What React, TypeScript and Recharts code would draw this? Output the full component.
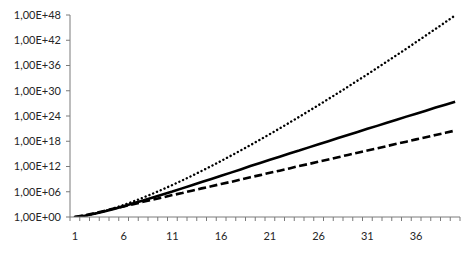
import React from 'react'
import { CartesianGrid, Line, LineChart, XAxis, YAxis } from 'recharts'

// categories 1..40
const categories = [
  1, 2, 3, 4, 5, 6, 7, 8, 9, 10, 11, 12, 13, 14, 15, 16, 17, 18, 19, 20,
  21, 22, 23, 24, 25, 26, 27, 28, 29, 30, 31, 32, 33, 34, 35, 36, 37, 38, 39, 40
]

// dotted series (top, curving up)
const dottedValues = [
  1, 2, 6, 2.4e1, 1.2e2, 7.2e2, 5e3, 4e4, 3.6e5, 3.6e6,
  4e7, 4.8e8, 6.2e9, 8.7e10, 1.3e12, 2.1e13, 3.6e14, 6.4e15, 1.2e17, 2.4e18,
  5.1e19, 1.1e21, 2.6e22, 6.2e23, 1.6e25, 4e26, 1.1e28, 3e29, 8.8e30, 2.7e32,
  8.2e33, 2.6e35, 8.7e36, 3e38, 1e40, 3.7e41, 1.4e43, 5.2e44, 2e46, 8e47
]

// solid series (middle)
const solidValues = [
  1, 2, 5.6, 2e1, 7.9e1, 3.5e2, 1.8e3, 8.9e3, 4.5e4, 2.2e5,
  1.1e6, 6.3e6, 3.5e7, 2e8, 1.1e9, 6.3e9, 3.5e10, 2e11, 1.3e12, 7.1e12,
  4e13, 2.2e14, 1.3e15, 6.3e15, 3.5e16, 2e17, 1e18, 5.6e18, 3.2e19, 1.6e20,
  8.9e20, 4.5e21, 2.5e22, 1.3e23, 7.1e23, 3.5e24, 1.8e25, 1e26, 5e26, 2.5e27
]

// dashed series (bottom)
const dashedValues = [
  1, 2.5, 7.9, 2.8e1, 1e2, 3.2e2, 1.1e3, 4e3, 1.3e4, 4.5e4,
  1.6e5, 5e5, 1.8e6, 6.3e6, 2e7, 7.1e7, 2.2e8, 7.9e8, 2.8e9, 8.9e9,
  3.2e10, 1e11, 3.5e11, 1.3e12, 4e12, 1.4e13, 4.5e13, 1.6e14, 5.6e14, 1.8e15,
  6.3e15, 2e16, 7.1e16, 2.5e17, 7.9e17, 2.8e18, 8.9e18, 3.2e19, 1e20, 3.5e20
]

const yTicks = [1, 1e6, 1e12, 1e18, 1e24, 1e30, 1e36, 1e42, 1e48]

const data = categories.map((c, i) => ({
  name: c,
  dotted: dottedValues[i],
  solid: solidValues[i],
  dashed: dashedValues[i]
}))

const FONT = 'Lato, "Liberation Sans", sans-serif'
const AXIS = '#7a7a7a'
const TEXT = '#262626'
const HALF_STEP = 4.875

function formatExp(v: number) {
  const e = Math.round(Math.log10(v))
  return `1,00E+${e < 10 ? '0' + e : e}`
}

function XTick(props: { x?: number; y?: number; index?: number; payload?: { value: number } }) {
  const { x = 0, y = 0, index = 0, payload } = props
  const last = index === categories.length - 1
  return (
    <g>
      <line x1={x - HALF_STEP} x2={x - HALF_STEP} y1={y} y2={y + 4} stroke={AXIS} strokeWidth={1} />
      {last && <line x1={x + HALF_STEP} x2={x + HALF_STEP} y1={y} y2={y + 4} stroke={AXIS} strokeWidth={1} />}
      {index % 5 === 0 && (
        <text x={x} y={y + 15} dy="0.71em" textAnchor="middle" fill={TEXT} fontSize={11} fontFamily={FONT}>
          {payload?.value}
        </text>
      )}
    </g>
  )
}

export default function App() {
  return (
    <div style={{ position: 'fixed', left: 0, top: 0, background: '#fff' }}>
      <LineChart width={474} height={257} data={data} margin={{ top: 15, right: 14, bottom: 10, left: 0 }}>
        <CartesianGrid stroke="none" />
        <XAxis
          dataKey="name"
          interval={0}
          padding={{ left: HALF_STEP, right: HALF_STEP }}
          axisLine={{ stroke: AXIS }}
          tickLine={false}
          tickSize={0}
          tickMargin={0}
          height={30}
          tick={<XTick />}
        />
        <YAxis
          scale="log"
          domain={[1, 1e48]}
          ticks={yTicks}
          interval={0}
          allowDataOverflow
          width={70}
          axisLine={{ stroke: AXIS }}
          tickLine={{ stroke: AXIS }}
          tickSize={4}
          tickMargin={5}
          tickFormatter={formatExp}
          tick={{ fontSize: 11, fill: TEXT, fontFamily: FONT }}
        />
        <Line
          dataKey="dotted"
          stroke="#000"
          strokeWidth={2.4}
          strokeDasharray="0.1 4"
          strokeLinecap="round"
          dot={false}
          isAnimationActive={false}
        />
        <Line dataKey="solid" stroke="#000" strokeWidth={2.6} dot={false} isAnimationActive={false} />
        <Line
          dataKey="dashed"
          stroke="#000"
          strokeWidth={2.6}
          strokeDasharray="8 3.5"
          dot={false}
          isAnimationActive={false}
        />
      </LineChart>
    </div>
  )
}
